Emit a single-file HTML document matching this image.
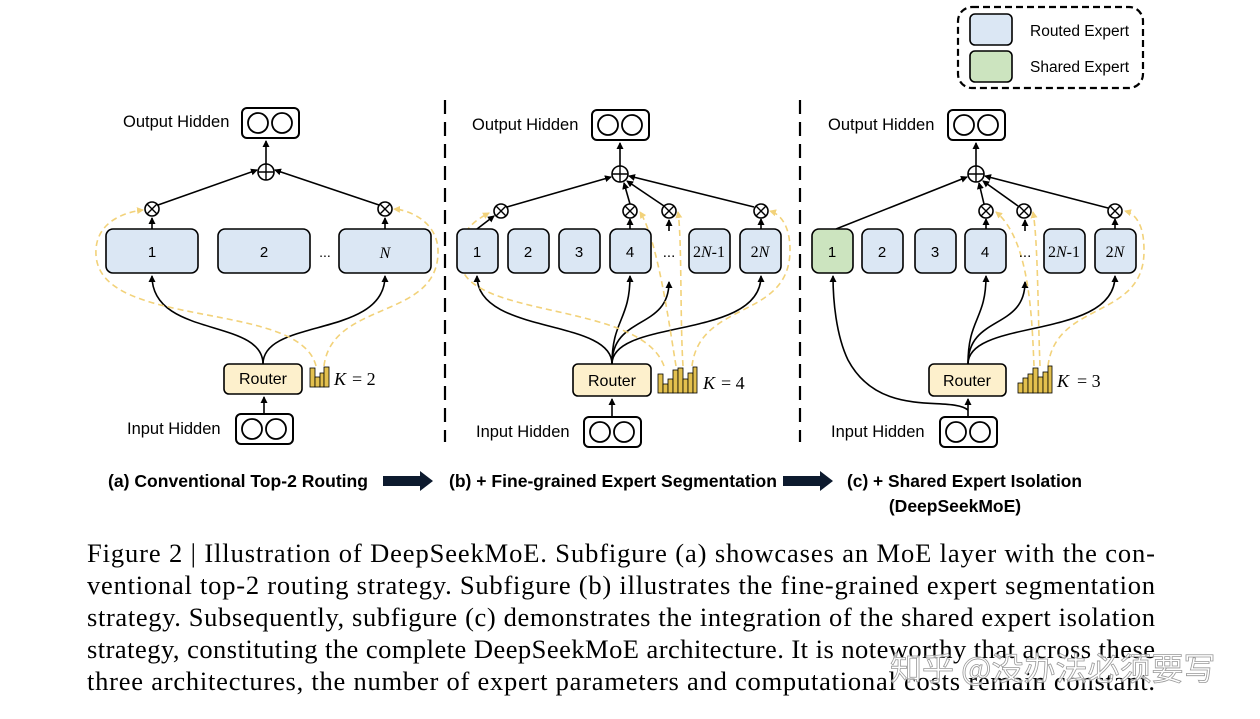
<!DOCTYPE html>
<html><head><meta charset="utf-8"><style>
html,body{margin:0;padding:0;background:#fff;width:1260px;height:719px;overflow:hidden}
svg{display:block}
.s{font-family:"Liberation Sans","DejaVu Sans",sans-serif}
.m{font-family:"Liberation Serif",serif;font-style:italic}
.b{font-family:"Liberation Sans",sans-serif;font-weight:bold;font-size:17.5px}
.p{font-family:"Liberation Serif",serif;font-size:26.5px}
</style></head><body>
<svg width="1260" height="719" viewBox="0 0 1260 719" xmlns="http://www.w3.org/2000/svg">
<defs>
<marker id="a" markerWidth="8" markerHeight="8" refX="6" refY="4" orient="auto" markerUnits="userSpaceOnUse"><path d="M0,0.5 L7,4 L0,7.5 Z" fill="#000"/></marker>
<marker id="y" markerWidth="8" markerHeight="8" refX="6" refY="4" orient="auto" markerUnits="userSpaceOnUse"><path d="M0,0.5 L7,4 L0,7.5 Z" fill="#f2d27a"/></marker>
<g id="oh"><rect x="0" y="0" width="57" height="30" rx="5" fill="#fff" stroke="#000" stroke-width="2"/><circle cx="16" cy="15" r="10" fill="none" stroke="#000" stroke-width="1.8"/><circle cx="40" cy="15" r="10" fill="none" stroke="#000" stroke-width="1.8"/></g>
<g id="plus"><circle r="8" fill="#fff" stroke="#000" stroke-width="1.6"/><path d="M-8,0H8M0,-8V8" stroke="#000" stroke-width="1.4"/></g>
<g id="tim"><circle r="7" fill="#fff" stroke="#000" stroke-width="1.6"/><path d="M-5,-5L5,5M-5,5L5,-5" stroke="#000" stroke-width="1.4"/></g>
</defs>

<rect x="958" y="7" width="185" height="81" rx="14" fill="none" stroke="#000" stroke-width="2.2" stroke-dasharray="7,4"/>
<rect x="970" y="14" width="42" height="31" rx="5" fill="#dbe7f4" stroke="#000" stroke-width="1.6"/>
<rect x="970" y="51" width="42" height="31" rx="5" fill="#cce4bf" stroke="#000" stroke-width="1.6"/>
<text x="1030" y="36" class="s" font-size="15.5">Routed Expert</text>
<text x="1030" y="72" class="s" font-size="15.5">Shared Expert</text>

<path d="M445,100V442M800,100V442" stroke="#000" stroke-width="2.2" stroke-dasharray="14,8"/>

<g stroke="#000" stroke-width="1.6" fill="none">
<path d="M266,164V141" marker-end="url(#a)"/>
<path d="M158,205L257,170" marker-end="url(#a)"/>
<path d="M379,205L275,170" marker-end="url(#a)"/>
<path d="M152,229V218" marker-end="url(#a)"/>
<path d="M385,229V218" marker-end="url(#a)"/>
<path d="M263,364C263,318 152,338 152,276" marker-end="url(#a)"/>
<path d="M263,364C263,318 385,338 385,276" marker-end="url(#a)"/>
<path d="M264,414V397" marker-end="url(#a)"/>
<path d="M620,166V143" marker-end="url(#a)"/>
<path d="M507,207L611,177" marker-end="url(#a)"/>
<path d="M630,204L624,183" marker-end="url(#a)"/>
<path d="M664,206L627,181" marker-end="url(#a)"/>
<path d="M754,207L629,176" marker-end="url(#a)"/>
<path d="M477,229L494,216" marker-end="url(#a)"/>
<path d="M630,229V219" marker-end="url(#a)"/>
<path d="M669,231V220" marker-end="url(#a)"/>
<path d="M761,229V219" marker-end="url(#a)"/>
<path d="M612,364C612,318 477,335 477,276" marker-end="url(#a)"/>
<path d="M612,364C612,320 630,320 630,276" marker-end="url(#a)"/>
<path d="M612,364C612,315 669,330 669,282" marker-end="url(#a)"/>
<path d="M612,364C612,318 761,340 761,276" marker-end="url(#a)"/>
<path d="M612,417V399" marker-end="url(#a)"/>
<path d="M976,166V143" marker-end="url(#a)"/>
<path d="M836,229L967,177" marker-end="url(#a)"/>
<path d="M984,204L979,183" marker-end="url(#a)"/>
<path d="M1018,206L983,181" marker-end="url(#a)"/>
<path d="M1108,208L985,176" marker-end="url(#a)"/>
<path d="M986,229V219" marker-end="url(#a)"/>
<path d="M1025,231V220" marker-end="url(#a)"/>
<path d="M1115,229V219" marker-end="url(#a)"/>
<path d="M968,364C968,318 986,320 986,276" marker-end="url(#a)"/>
<path d="M968,364C968,315 1025,330 1025,282" marker-end="url(#a)"/>
<path d="M968,364C968,318 1115,340 1115,276" marker-end="url(#a)"/>
<path d="M968,410C950,395 880,420 848,360C836,335 833,300 833,276" marker-end="url(#a)"/>
<path d="M968,417V399" marker-end="url(#a)"/>
</g>

<g stroke="#f2d27a" stroke-width="1.6" fill="none" stroke-dasharray="6,4">
<path d="M316,366C300,300 100,330 96,255C94,222 125,212 143,210" marker-end="url(#y)"/>
<path d="M324,366C332,300 440,320 438,250C437,222 410,210 394,209" marker-end="url(#y)"/>
<path d="M664,366C640,300 462,320 460,260C459,232 472,222 489,213" marker-end="url(#y)"/>
<path d="M676,366C670,330 658,240 640,212" marker-end="url(#y)"/>
<path d="M683,366C680,320 682,240 678,212" marker-end="url(#y)"/>
<path d="M692,366C700,300 790,320 790,250C790,225 780,214 770,211" marker-end="url(#y)"/>
<path d="M1034,366C1032,320 1030,240 996,212" marker-end="url(#y)"/>
<path d="M1040,366C1038,320 1038,240 1033,212" marker-end="url(#y)"/>
<path d="M1048,366C1056,300 1145,320 1144,250C1144,225 1136,214 1125,211" marker-end="url(#y)"/>
</g>

<use href="#oh" x="242" y="108"/>
<use href="#plus" x="266" y="172"/>
<use href="#tim" x="152" y="209"/>
<use href="#tim" x="385" y="209"/>
<g fill="#dbe7f4" stroke="#000" stroke-width="1.6">
<rect x="106" y="229" width="92" height="44" rx="7"/>
<rect x="218" y="229" width="92" height="44" rx="7"/>
<rect x="339" y="229" width="92" height="44" rx="7"/>
</g>
<text x="152" y="257" class="s" font-size="15" text-anchor="middle">1</text>
<text x="264" y="257" class="s" font-size="15" text-anchor="middle">2</text>
<text x="325" y="257" class="s" font-size="14" text-anchor="middle">...</text>
<text x="385" y="258" class="m" font-size="16" text-anchor="middle">N</text>
<rect x="224" y="364" width="78" height="30" rx="5" fill="#fdf0cc" stroke="#000" stroke-width="1.6"/>
<text x="263" y="384" class="s" font-size="16" text-anchor="middle">Router</text>
<g fill="#e3c04e" stroke="#000" stroke-width="0.8">
<rect x="310" y="368" width="5" height="19"/><rect x="315" y="377" width="5" height="10"/><rect x="320" y="373" width="4" height="14"/><rect x="324" y="367" width="5" height="20"/>
</g>
<text x="334" y="385" class="m" font-size="18">K</text><text x="352" y="385" font-family="Liberation Serif" font-size="18">= 2</text>
<use href="#oh" x="236" y="414"/>
<text x="127" y="434" class="s" font-size="16.5">Input Hidden</text>
<text x="123" y="127" class="s" font-size="16.5">Output Hidden</text>

<use href="#oh" x="592" y="110"/>
<use href="#plus" x="620" y="174"/>
<use href="#tim" x="501" y="211"/><use href="#tim" x="630" y="211"/><use href="#tim" x="669" y="211"/><use href="#tim" x="761" y="211"/>
<g fill="#dbe7f4" stroke="#000" stroke-width="1.6">
<rect x="457" y="229" width="41" height="44" rx="7"/><rect x="508" y="229" width="41" height="44" rx="7"/><rect x="559" y="229" width="41" height="44" rx="7"/><rect x="610" y="229" width="41" height="44" rx="7"/><rect x="689" y="229" width="41" height="44" rx="7"/><rect x="740" y="229" width="41" height="44" rx="7"/>
</g>
<g class="s" font-size="15" text-anchor="middle">
<text x="477" y="257">1</text><text x="528" y="257">2</text><text x="579" y="257">3</text><text x="630" y="257">4</text><text x="669" y="257">...</text>
</g>
<text x="709" y="257" font-family="Liberation Serif" font-size="16" text-anchor="middle">2<tspan font-style="italic">N</tspan>-1</text>
<text x="760" y="257" font-family="Liberation Serif" font-size="16" text-anchor="middle">2<tspan font-style="italic">N</tspan></text>
<rect x="573" y="364" width="78" height="32" rx="5" fill="#fdf0cc" stroke="#000" stroke-width="1.6"/>
<text x="612" y="386" class="s" font-size="16" text-anchor="middle">Router</text>
<g fill="#e3c04e" stroke="#000" stroke-width="0.8">
<rect x="658" y="374" width="5" height="19"/><rect x="663" y="384" width="5" height="9"/><rect x="668" y="379" width="5" height="14"/><rect x="673" y="370" width="5" height="23"/><rect x="678" y="368" width="5" height="25"/><rect x="683" y="379" width="5" height="14"/><rect x="688" y="373" width="5" height="20"/><rect x="693" y="367" width="4" height="26"/>
</g>
<text x="703" y="389" class="m" font-size="18">K</text><text x="721" y="389" font-family="Liberation Serif" font-size="18">= 4</text>
<use href="#oh" x="584" y="417"/>
<text x="476" y="437" class="s" font-size="16.5">Input Hidden</text>
<text x="472" y="130" class="s" font-size="16.5">Output Hidden</text>

<use href="#oh" x="948" y="110"/>
<use href="#plus" x="976" y="174"/>
<use href="#tim" x="986" y="211"/><use href="#tim" x="1024" y="211"/><use href="#tim" x="1115" y="211"/>
<g fill="#dbe7f4" stroke="#000" stroke-width="1.6">
<rect x="812" y="229" width="41" height="44" rx="7" fill="#cce4bf"/><rect x="862" y="229" width="41" height="44" rx="7"/><rect x="915" y="229" width="41" height="44" rx="7"/><rect x="965" y="229" width="41" height="44" rx="7"/><rect x="1044" y="229" width="41" height="44" rx="7"/><rect x="1095" y="229" width="41" height="44" rx="7"/>
</g>
<g class="s" font-size="15" text-anchor="middle">
<text x="832" y="257">1</text><text x="882" y="257">2</text><text x="935" y="257">3</text><text x="985" y="257">4</text><text x="1025" y="257">...</text>
</g>
<text x="1064" y="257" font-family="Liberation Serif" font-size="16" text-anchor="middle">2<tspan font-style="italic">N</tspan>-1</text>
<text x="1115" y="257" font-family="Liberation Serif" font-size="16" text-anchor="middle">2<tspan font-style="italic">N</tspan></text>
<rect x="929" y="364" width="77" height="32" rx="5" fill="#fdf0cc" stroke="#000" stroke-width="1.6"/>
<text x="967" y="386" class="s" font-size="16" text-anchor="middle">Router</text>
<g fill="#e3c04e" stroke="#000" stroke-width="0.8">
<rect x="1018" y="383" width="5" height="10"/><rect x="1023" y="378" width="5" height="15"/><rect x="1028" y="374" width="5" height="19"/><rect x="1033" y="368" width="5" height="25"/><rect x="1038" y="377" width="5" height="16"/><rect x="1043" y="372" width="5" height="21"/><rect x="1048" y="366" width="4" height="27"/>
</g>
<text x="1057" y="387" class="m" font-size="18">K</text><text x="1077" y="387" font-family="Liberation Serif" font-size="18">= 3</text>
<use href="#oh" x="940" y="417"/>
<text x="831" y="437" class="s" font-size="16.5">Input Hidden</text>
<text x="828" y="130" class="s" font-size="16.5">Output Hidden</text>

<text x="108" y="487" class="b" textLength="260" lengthAdjust="spacingAndGlyphs">(a) Conventional Top-2 Routing</text>
<text x="449" y="487" class="b" textLength="328" lengthAdjust="spacingAndGlyphs">(b) + Fine-grained Expert Segmentation</text>
<text x="847" y="487" class="b" textLength="235" lengthAdjust="spacingAndGlyphs">(c) + Shared Expert Isolation</text>
<text x="955" y="512" class="b" text-anchor="middle">(DeepSeekMoE)</text>
<path d="M383,476H420V471L433,481L420,491V486H383Z" fill="#0d1a2e"/>
<path d="M783,476H820V471L833,481L820,491V486H783Z" fill="#0d1a2e"/>

<g class="p" fill="#000">
<text x="87" y="562" textLength="1068" lengthAdjust="spacing">Figure 2 | Illustration of DeepSeekMoE. Subfigure (a) showcases an MoE layer with the con-</text>
<text x="87" y="594" textLength="1068" lengthAdjust="spacing">ventional top-2 routing strategy. Subfigure (b) illustrates the fine-grained expert segmentation</text>
<text x="87" y="626" textLength="1068" lengthAdjust="spacing">strategy. Subsequently, subfigure (c) demonstrates the integration of the shared expert isolation</text>
<text x="87" y="658" textLength="1068" lengthAdjust="spacing">strategy, constituting the complete DeepSeekMoE architecture. It is noteworthy that across these</text>
<text x="87" y="690" textLength="1068" lengthAdjust="spacing">three architectures, the number of expert parameters and computational costs remain constant.</text>
</g>
<text x="890" y="680" font-family="'Noto Sans CJK SC','WenQuanYi Zen Hei',sans-serif" font-size="32" fill="#fff" fill-opacity="0.75" stroke="#999" stroke-width="0.8">知乎 @没办法必须要写</text>
</svg>
</body></html>
